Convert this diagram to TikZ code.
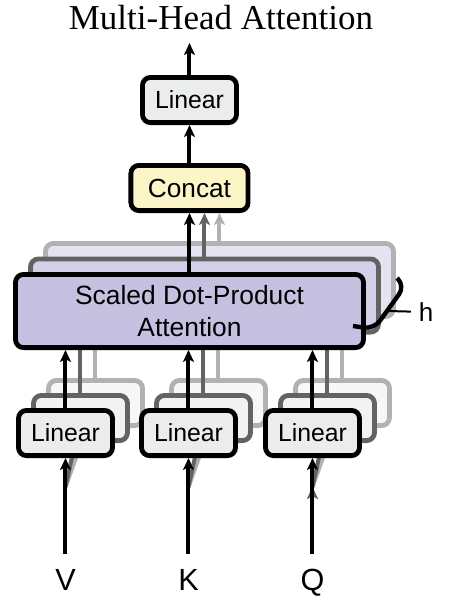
\documentclass[tikz,border=0pt]{standalone}
\usepackage{fontspec}
\setsansfont{Liberation Sans}
\newfontfamily\headfont{Liberation Serif}
\usetikzlibrary{arrows.meta,positioning}

\definecolor{linfill}{HTML}{EBECEC}
\definecolor{lin2}{HTML}{F2F2F2}
\definecolor{lin3}{HTML}{F7F7F7}
\definecolor{catfill}{HTML}{FBF5C8}
\definecolor{att1}{HTML}{C6C1E1}
\definecolor{att2}{HTML}{D4D0E9}
\definecolor{att3}{HTML}{E5E2F1}
\definecolor{midgray}{HTML}{636363}
\definecolor{backgray}{HTML}{B2B2B2}

\begin{document}
\begin{tikzpicture}[x=0.5pt,y=-0.5pt,->,>={Stealth[length=6pt,width=5.5pt,inset=1.5pt]},
  line width=2pt,
  linbox/.style={draw,rounded corners=4pt,line width=2.4pt,minimum width=47pt,minimum height=22.6pt,
    inner sep=0pt,font=\sffamily\fontsize{12.4}{15}\selectfont},
  catbox/.style={linbox,minimum width=58.6pt,fill=catfill,font=\sffamily\fontsize{13.1}{16}\selectfont},
  attbox/.style={linbox,minimum width=174pt,minimum height=36.6pt,align=center,
    font=\sffamily\fontsize{13.2}{16}\selectfont},
  midcopy/.style={draw=midgray},
  backcopy/.style={draw=backgray},
  input/.style={anchor=base,inner sep=6.5pt,font=\sffamily\fontsize{15.3}{18}\selectfont}]
  \useasboundingbox (0,0) rectangle (456,602);

  % output side
  \node[anchor=base,font=\headfont\fontsize{17.5}{20}\selectfont] (title) at (221,29) {Multi-Head Attention};
  \coordinate (out) at (189.5,43);
  \node[linbox,fill=linfill] (lin) at (189.5,100) {Linear};
  \node[catbox] (cat) at (189.5,188) {Concat};
  \draw (lin) edge (out);
  \draw (cat) edge (lin);

  % h heads, back copy first
  \node[attbox,backcopy,fill=att3] (sdpa3) at (219.5,280) {};
  \node[linbox,backcopy,fill=lin3] (lv3) at (95.5,403) {};
  \node[linbox,backcopy,fill=lin3] (lk3) at (218.5,403) {};
  \node[linbox,backcopy,fill=lin3] (lq3) at (342.5,403) {};
  \draw[backcopy] (sdpa3) edge (sdpa3 |- cat.south)
    (lv3) edge (lv3 |- sdpa3.south)
    (lk3) edge (lk3 |- sdpa3.south)
    (lq3) edge (lq3 |- sdpa3.south);

  \node[attbox,midcopy,fill=att2] (sdpa2) at (204.5,295.5) {};
  \node[linbox,midcopy,fill=lin2] (lv2) at (80.5,418) {};
  \node[linbox,midcopy,fill=lin2] (lk2) at (203.5,418) {};
  \node[linbox,midcopy,fill=lin2] (lq2) at (327.5,418) {};
  \draw[midcopy] (sdpa2) edge (sdpa2 |- cat.south)
    (lv2) edge (lv2 |- sdpa2.south)
    (lk2) edge (lk2 |- sdpa2.south)
    (lq2) edge (lq2 |- sdpa2.south);

  % inputs split to the copies
  \coordinate (vb) at (65.5,487);
  \coordinate (kb) at (188.5,487);
  \coordinate (qb) at (312.5,487);
  \draw[backcopy] (vb) edge (lv3) (kb) edge (lk3) (qb) edge (lq3);
  \draw[midcopy] (vb) edge (lv2) (kb) edge (lk2) (qb) edge (lq2);

  % front head
  \node[attbox,fill=att1] (sdpa) at (189.5,311) {Scaled Dot-Product\\Attention};
  \node[linbox,fill=linfill] (lv) at (65.5,433) {Linear};
  \node[linbox,fill=linfill] (lk) at (188.5,433) {Linear};
  \node[linbox,fill=linfill] (lq) at (312.5,433) {Linear};
  \draw (sdpa) edge (cat)
    (lv) edge (lv |- sdpa.south)
    (lk) edge (lk |- sdpa.south)
    (lq) edge (lq |- sdpa.south);

  \node[input] (v) at (65.5,590) {V};
  \node[input] (k) at (188.5,590) {K};
  \node[input] (q) at (312.5,590) {Q};
  \draw (v) edge (lv) (k) edge (lk) (q) edge (lq);

  % brace for h
  \draw[-,line width=2.2pt,rounded corners=5pt] (397,278) -- (405,286) -- (374,329) -- (353,326);
  \coordinate (hb) at (388,311);
  \node[inner sep=3pt,font=\sffamily\fontsize{13}{16}\selectfont] (h) at (426,312) {h};
  \draw[-,line width=1pt] (hb) -- (h);
\end{tikzpicture}
\end{document}
